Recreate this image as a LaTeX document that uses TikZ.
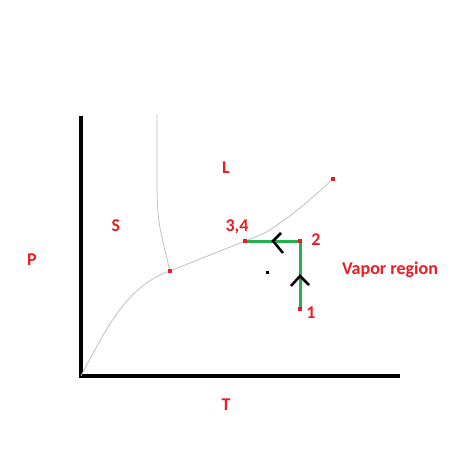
\documentclass[tikz,border=0pt]{standalone}
\usepackage{fontspec}
\setmainfont{Carlito}
\definecolor{paintred}{RGB}{237,28,36}
\definecolor{paintgreen}{RGB}{34,177,76}

\begin{document}
\begin{tikzpicture}[x=1pt,y=-1pt,
   lbl/.style={text=paintred,font=\bfseries\fontsize{18}{21}\selectfont,inner sep=0pt},
   pt/.style={rectangle,fill=paintred,inner sep=0pt,minimum size=3.5pt},
   curve/.style={gray!50,line width=0.8pt},
   path/.style={paintgreen,line width=3pt},
   chev/.style={black,line width=2.5pt}]
  \useasboundingbox (0,0) rectangle (450,473);
  % axes
  \coordinate (O) at (81,376);
  \draw [line width=4.5pt] (81,116) -- (O) -- (400,376);
  % phase boundaries
  \coordinate (tp) at (170,271);
  \coordinate (cp) at (333,179);
  \draw [curve] (O) .. controls (110,320) and (130,285) .. (tp);
  \draw [curve] (157,114) -- (157,190) .. controls (158,222) .. (tp);
  \draw [curve] plot [smooth] coordinates {(170,271) (200,259) (245,241) (268,231) (300,208) (333,179)};
  % states
  \coordinate (s1) at (300,309);
  \coordinate (s2) at (300,241);
  \coordinate (s34) at (245,241);
  \draw [path] (s1) -- (s2) -- (s34);
  \coordinate (a1) at (300,276);
  \coordinate (a2) at (273,241);
  \draw [chev] (a1) ++(-9,10) -- (a1) -- ++(9,9);
  \draw [chev] (a2) ++(8,-8) -- (a2) -- ++(10,12);
  \fill (265.5,270.5) rectangle (268.5,273.5);
  \foreach \p in {tp,cp,s1,s2,s34}
    \node [pt] at (\p) {};
  % labels
  \node [lbl] (L) at (226,168) {L};
  \node [lbl] (S) at (116,226) {S};
  \node [lbl] (n34) at (237,227) {3,4};
  \node [lbl] (n2) at (316,240) {2};
  \node [lbl] (n1) at (311,313) {1};
  \node [lbl] (vap) at (390,270) {Vapor region};
  \node [lbl] (P) at (32,260) {P};
  \node [lbl] (T) at (226,405) {T};
\end{tikzpicture}
\end{document}
